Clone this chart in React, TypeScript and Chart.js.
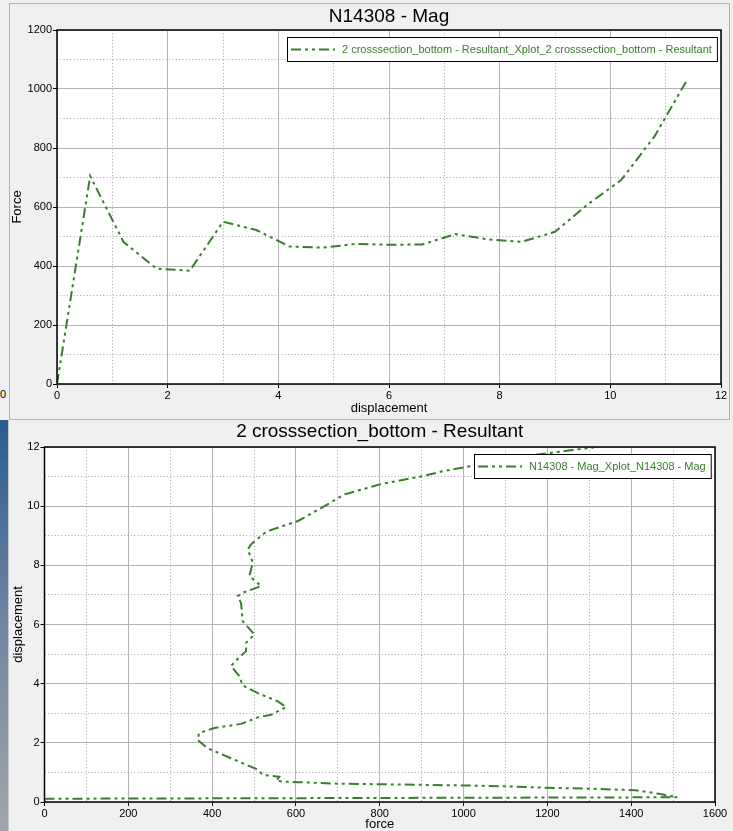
import React, { useEffect, useRef } from 'react';
import { Chart, registerables } from 'chart.js';

Chart.register(...registerables);

const FONT = "'Liberation Sans', Arial, sans-serif";
const GREEN = '#3a7d2f';
const DASH = [10, 4, 3, 4, 3, 4];

// ---- Top chart: N14308 - Mag (displacement vs Force)
const topTitle = 'N14308 - Mag';
const topLegend = '2 crosssection_bottom - Resultant_Xplot_2 crosssection_bottom - Resultant';
const topDisplacement = [0, 0.6, 1.2, 1.8, 2.4, 3.0, 3.6, 4.2, 4.8, 5.4, 6.0, 6.6, 7.2, 7.8, 8.4, 9.0, 9.6, 10.2, 10.8, 11.4];
const topForce = [0, 705, 482, 391, 384, 550, 522, 466, 462, 475, 472, 473, 508, 490, 482, 516, 610, 692, 840, 1035];
const topXAxis = { min: 0, max: 12, minor: 1, major: 2, title: 'displacement' };
const topYAxis = { min: 0, max: 1200, minor: 100, major: 200, title: 'Force' };

// ---- Bottom chart: 2 crosssection_bottom - Resultant (force vs displacement)
const botTitle = '2 crosssection_bottom - Resultant';
const botLegend = 'N14308 - Mag_Xplot_N14308 - Mag';
const botForce = [
  0, 1510, 1495, 1470, 1410, 1360, 1300, 1200, 1100, 1000, 900, 800, 700, 605, 570, 553, 560,
  521, 505, 445, 389, 365, 369, 405, 469, 509, 541, 577, 557, 509, 473, 465, 445, 462, 481, 481,
  501, 473, 469, 461, 473, 517, 489, 497, 485, 493, 521, 533, 605, 668, 716, 804, 907, 947, 1019,
  1043, 1150, 1250, 1310,
];
const botDisplacement = [
  0.11, 0.16, 0.2, 0.27, 0.4, 0.42, 0.45, 0.48, 0.53, 0.56, 0.58, 0.6, 0.62, 0.67, 0.69, 0.72, 0.85,
  0.92, 1.12, 1.48, 1.82, 2.1, 2.33, 2.5, 2.64, 2.86, 2.95, 3.21, 3.4, 3.68, 3.94, 4.25, 4.6, 4.85, 5.1, 5.38,
  5.66, 6.11, 6.73, 6.96, 7.07, 7.3, 7.64, 8.09, 8.54, 8.71, 9.05, 9.16, 9.5, 10.0, 10.4, 10.75, 11.03, 11.17, 11.36,
  11.5, 11.7, 11.88, 11.98,
];
const botXAxis = { min: 0, max: 1600, minor: 100, major: 200, title: 'force' };
const botYAxis = { min: 0, max: 12, minor: 1, major: 2, title: 'displacement' };

const isMajor = (v: number, major: number) => Math.abs(v / major - Math.round(v / major)) < 1e-6;

const framePlugin = {
  id: 'frame',
  beforeDraw(chart: any) {
    const { ctx, chartArea: a } = chart;
    ctx.save();
    ctx.fillStyle = '#ffffff';
    ctx.fillRect(a.left, a.top, a.right - a.left, a.bottom - a.top);
    ctx.restore();
  },
  afterDraw(chart: any) {
    const { ctx, chartArea: a } = chart;
    const opts = chart.options.plugins.frame || {};
    ctx.save();
    // plot frame
    ctx.strokeStyle = '#000';
    ctx.lineWidth = 1.5;
    ctx.strokeRect(a.left, a.top, a.right - a.left, a.bottom - a.top);
    // title, centred over the plot area
    ctx.fillStyle = '#000';
    ctx.font = `19px ${FONT}`;
    ctx.textAlign = 'center';
    ctx.textBaseline = 'middle';
    ctx.fillText(opts.title || '', (a.left + a.right) / 2, opts.titleY || 12);
    // legend box
    const ds = chart.data.datasets[0];
    ctx.font = `11px ${FONT}`;
    ctx.textAlign = 'left';
    const tw = ctx.measureText(ds.label).width;
    const h = 24;
    const w = 4 + 44 + 7 + tw + 5;
    const x = Math.round(a.right - 4 - w);
    const y = Math.round(a.top + 7);
    ctx.fillStyle = '#fff';
    ctx.fillRect(x, y, w, h);
    ctx.lineWidth = 1;
    ctx.strokeStyle = '#000';
    ctx.strokeRect(x + 0.5, y + 0.5, w, h);
    ctx.strokeStyle = ds.borderColor;
    ctx.lineWidth = 2;
    ctx.setLineDash(DASH);
    ctx.beginPath();
    ctx.moveTo(x + 4, y + h / 2 + 0.5);
    ctx.lineTo(x + 48, y + h / 2 + 0.5);
    ctx.stroke();
    ctx.setLineDash([]);
    ctx.fillStyle = GREEN;
    ctx.textBaseline = 'middle';
    ctx.fillText(ds.label, x + 55, y + h / 2 + 1);
    ctx.restore();
  },
};

function makeAxis(ax: any, size: number, horizontal: boolean, titlePad: any) {
  return {
    type: 'linear',
    min: ax.min,
    max: ax.max,
    afterFit: (s: any) => {
      if (horizontal) s.height = size;
      else s.width = size;
    },
    ticks: {
      stepSize: ax.minor,
      autoSkip: false,
      maxRotation: 0,
      color: '#000',
      padding: 1,
      font: { family: FONT, size: 11 },
      callback: (v: any) => (isMajor(Number(v), ax.major) ? String(v) : ''),
    },
    grid: {
      color: (c: any) => (c.tick && isMajor(c.tick.value, ax.major) ? '#b4b4b4' : '#a4a4a4'),
      lineWidth: 1,
      tickLength: 4,
      tickColor: (c: any) => (c.tick && isMajor(c.tick.value, ax.major) ? '#000' : 'rgba(0,0,0,0)'),
    },
    border: {
      display: false,
      dash: (c: any) => (c.tick && !isMajor(c.tick.value, ax.major) ? [1, 2.3] : []),
    },
    title: {
      display: true,
      text: ax.title,
      color: '#000',
      font: { family: FONT, size: 13 },
      padding: titlePad,
    },
  };
}

function PlotCanvas(props: any) {
  const ref = useRef<HTMLCanvasElement>(null);
  useEffect(() => {
    const p = props;
    const chart = new Chart(ref.current as HTMLCanvasElement, {
      type: 'scatter',
      data: {
        datasets: [
          {
            label: p.legend,
            data: p.xs.map((x: number, i: number) => ({ x, y: p.ys[i] })),
            showLine: true,
            borderColor: GREEN,
            backgroundColor: GREEN,
            borderWidth: 2,
            borderDash: DASH,
            pointRadius: 0,
            tension: 0,
          },
        ],
      },
      options: {
        responsive: false,
        animation: false,
        layout: { padding: { left: 0, top: p.padTop, right: p.padRight, bottom: 0 } },
        plugins: {
          legend: { display: false },
          tooltip: { enabled: false },
          title: { display: false },
          frame: { title: p.title, titleY: p.titleY },
        },
        scales: {
          x: makeAxis(p.xAxis, p.xHeight, true, { top: 0, bottom: p.xTitlePad }),
          y: makeAxis(p.yAxis, p.yWidth, false, { top: p.yTitlePad, bottom: 0 }),
        },
      } as any,
      plugins: [framePlugin],
    });
    return () => chart.destroy();
  }, []);
  return (
    <canvas
      ref={ref}
      width={props.w}
      height={props.h}
      style={{ position: 'absolute', left: props.left, top: props.top, width: props.w, height: props.h }}
    />
  );
}

export default function App() {
  return (
    <div
      style={{
        position: 'fixed',
        left: 0,
        top: 0,
        width: 733,
        height: 831,
        overflow: 'hidden',
        background: '#f0f0f0',
        fontFamily: FONT,
      }}
    >
      <div
        style={{
          position: 'absolute',
          left: 0,
          top: 420,
          width: 8,
          height: 411,
          background: 'linear-gradient(#2b5a8c, #6f87a2 50%, #a2a6aa)',
          borderRight: '1px solid #c4c8cc',
        }}
      />
      <span style={{ position: 'absolute', left: 0, top: 388, fontSize: 11, color: '#000', lineHeight: '13px' }}>0</span>
      <div
        style={{
          position: 'absolute',
          left: 9,
          top: 3,
          width: 721,
          height: 417,
          boxSizing: 'border-box',
          border: '1px solid #40e0e8',
        }}
      />
      <PlotCanvas
        left={10}
        top={4}
        w={719}
        h={414}
        title={topTitle}
        legend={topLegend}
        xs={topDisplacement}
        ys={topForce}
        xAxis={topXAxis}
        yAxis={topYAxis}
        padTop={26}
        padRight={8}
        titleY={12.5}
        xHeight={34}
        yWidth={47}
        xTitlePad={2.2}
        yTitlePad={0}
      />
      <PlotCanvas
        left={9}
        top={420}
        w={724}
        h={412}
        title={botTitle}
        legend={botLegend}
        xs={botForce}
        ys={botDisplacement}
        xAxis={botXAxis}
        yAxis={botYAxis}
        padTop={27}
        padRight={18}
        titleY={11.5}
        xHeight={30}
        yWidth={35.5}
        xTitlePad={0.2}
        yTitlePad={1.2}
      />
    </div>
  );
}
